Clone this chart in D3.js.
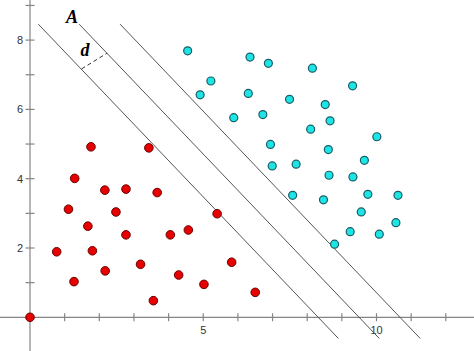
<!DOCTYPE html>
<html>
<head>
<meta charset="utf-8">
<style>
  body { margin: 0; background: #fff; }
  svg { display: block; }
</style>
</head>
<body>
<svg id="chart" width="474" height="351"></svg>
<script src="https://cdn.jsdelivr.net/npm/d3@7"></script>
<script>
// class 1 (red)
const redX = [0, 1.76, 3.43, 1.29, 2.16, 2.77, 3.67, 1.11, 2.48, 1.67, 5.40, 0.77,
              1.80, 2.77, 4.05, 4.57, 2.17, 3.19, 1.27, 4.29, 5.82, 5.02, 6.50, 3.56]
const redY = [0, 4.92, 4.89, 4.01, 3.67, 3.70, 3.60, 3.12, 3.04, 2.63, 2.99, 1.89,
              1.92, 2.38, 2.38, 2.52, 1.34, 1.53, 1.03, 1.22, 1.59, 0.95, 0.72, 0.48]

// class 2 (cyan)
const cyanX = [4.55, 6.35, 6.88, 8.15, 5.22, 9.31, 4.91, 6.30, 7.49, 8.52, 5.88, 6.72,
               8.66, 8.10, 10.01, 6.94, 8.61, 9.65, 6.99, 7.68, 8.63, 9.32, 7.58, 8.47,
               9.75, 10.62, 9.56, 10.56, 9.24, 10.08, 8.79]
const cyanY = [7.69, 7.51, 7.33, 7.19, 6.82, 6.68, 6.42, 6.46, 6.29, 6.14, 5.76, 5.85,
               5.67, 5.43, 5.21, 4.99, 4.84, 4.53, 4.37, 4.42, 4.10, 4.05, 3.52, 3.39,
               3.55, 3.52, 3.04, 2.73, 2.47, 2.40, 2.11]

// separating lines (data coords)
const sepLines = [
  [[0.24, 8.46], [8.90, -0.61]],
  [[1.42, 8.46], [10.08, -0.61]],
  [[2.60, 8.46], [11.26, -0.61]]
]
const marginSeg = [[1.49, 7.17], [2.22, 7.62]]

const xTicks = d3.range(0, 13)
const yTicks = d3.range(1, 10)
const xLabels = [5, 10]
const yLabels = [2, 4, 6, 8]

const svg = d3.select("#chart")

const x = d3.scaleLinear().domain([0, 10]).range([30, 376.5])
const y = d3.scaleLinear().domain([0, 8]).range([317.3, 40.1])

const axisColor = "#858585"

// x axis
svg.append("line")
  .attr("x1", 0).attr("x2", 474)
  .attr("y1", y(0)).attr("y2", y(0))
  .attr("stroke", axisColor).attr("stroke-width", 1.2)
svg.selectAll(".xt").data(xTicks.filter(d => d > 0))
  .enter().append("line")
  .attr("x1", d => x(d)).attr("x2", d => x(d))
  .attr("y1", y(0) - 4).attr("y2", y(0) + 4)
  .attr("stroke", axisColor).attr("stroke-width", 1.2)

// y axis
svg.append("line")
  .attr("x1", x(0)).attr("x2", x(0))
  .attr("y1", 0).attr("y2", 351)
  .attr("stroke", axisColor).attr("stroke-width", 1.2)
svg.selectAll(".yt").data(yTicks)
  .enter().append("line")
  .attr("x1", x(0) - 4.5).attr("x2", x(0) + 4.5)
  .attr("y1", d => y(d)).attr("y2", d => y(d))
  .attr("stroke", axisColor).attr("stroke-width", 1.2)

svg.selectAll(".xl").data(xLabels)
  .enter().append("text")
  .attr("x", d => x(d)).attr("y", y(0) + 17)
  .attr("text-anchor", "middle")
  .attr("font-family", "Liberation Sans, Arial, sans-serif")
  .attr("font-size", 11).attr("fill", "#333")
  .text(d => d)

svg.selectAll(".yl").data(yLabels)
  .enter().append("text")
  .attr("x", x(0) - 7).attr("y", d => y(d) + 4)
  .attr("text-anchor", "end")
  .attr("font-family", "Liberation Sans, Arial, sans-serif")
  .attr("font-size", 11).attr("fill", "#333")
  .text(d => d)

// lines
svg.selectAll(".sep").data(sepLines)
  .enter().append("line")
  .attr("x1", d => x(d[0][0])).attr("y1", d => y(d[0][1]))
  .attr("x2", d => x(d[1][0])).attr("y2", d => y(d[1][1]))
  .attr("stroke", "#555").attr("stroke-width", 1)

svg.append("line")
  .attr("x1", x(marginSeg[0][0])).attr("y1", y(marginSeg[0][1]))
  .attr("x2", x(marginSeg[1][0])).attr("y2", y(marginSeg[1][1]))
  .attr("stroke", "#333").attr("stroke-width", 1)
  .attr("stroke-dasharray", "4,3")

// points
svg.selectAll(".red").data(redX)
  .enter().append("circle")
  .attr("cx", d => x(d)).attr("cy", (d, i) => y(redY[i]))
  .attr("r", 4.3)
  .attr("fill", "#e60000").attr("stroke", "#6b0000").attr("stroke-width", 1)

svg.selectAll(".cyan").data(cyanX)
  .enter().append("circle")
  .attr("cx", d => x(d)).attr("cy", (d, i) => y(cyanY[i]))
  .attr("r", 4)
  .attr("fill", "#1de5e5").attr("stroke", "#1b5c66").attr("stroke-width", 1.2)

// labels
svg.append("text")
  .attr("x", x(1.21)).attr("y", y(8.67) + 6)
  .attr("text-anchor", "middle")
  .attr("font-family", "Liberation Serif, Times New Roman, serif")
  .attr("font-weight", "bold").attr("font-style", "italic")
  .attr("font-size", 18).attr("fill", "#000")
  .text("A")

svg.append("text")
  .attr("x", x(1.59)).attr("y", y(7.71) + 6)
  .attr("text-anchor", "middle")
  .attr("font-family", "Liberation Serif, Times New Roman, serif")
  .attr("font-weight", "bold").attr("font-style", "italic")
  .attr("font-size", 18).attr("fill", "#000")
  .text("d")
</script>
</body>
</html>
